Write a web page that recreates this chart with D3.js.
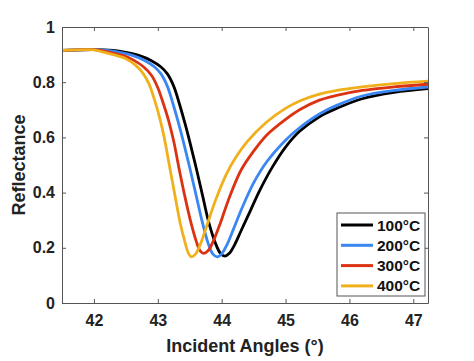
<!DOCTYPE html>
<html>
<head>
<meta charset="utf-8">
<script src="https://cdn.jsdelivr.net/npm/d3@7"></script>
<style>
  body { margin: 0; background: #fff; }
  svg { display: block; font-family: "Liberation Sans", Arial, sans-serif; }
</style>
</head>
<body>
<div id="chart"></div>
<script>
// reflectance curves, [angle, R]
const r100 = [[41.5,0.915],[42.0,0.918],[42.3,0.915],[42.5,0.908],[42.7,0.897],[42.9,0.878],[43.05,0.855],[43.15,0.83],[43.25,0.785],[43.34,0.72],[43.42,0.655],[43.5,0.585],[43.6,0.49],[43.7,0.39],[43.8,0.29],[43.9,0.218],[43.98,0.18],[44.05,0.17],[44.12,0.18],[44.2,0.21],[44.3,0.26],[44.45,0.335],[44.6,0.41],[44.8,0.495],[45.0,0.565],[45.22,0.622],[45.53,0.675],[45.8,0.705],[46.2,0.74],[46.7,0.763],[47.25,0.777]];
const r200 = [[41.5,0.915],[42.0,0.918],[42.2,0.915],[42.4,0.908],[42.6,0.897],[42.8,0.878],[42.95,0.855],[43.05,0.83],[43.15,0.785],[43.24,0.72],[43.32,0.655],[43.4,0.585],[43.5,0.49],[43.6,0.39],[43.7,0.29],[43.79,0.215],[43.86,0.178],[43.93,0.167],[44.0,0.178],[44.08,0.21],[44.18,0.265],[44.32,0.345],[44.5,0.435],[44.7,0.51],[45.0,0.59],[45.22,0.635],[45.53,0.685],[45.8,0.716],[46.2,0.75],[46.7,0.77],[47.25,0.783]];
const r300 = [[41.5,0.915],[42.0,0.918],[42.1,0.915],[42.25,0.908],[42.45,0.897],[42.62,0.88],[42.78,0.855],[42.9,0.825],[43.0,0.78],[43.09,0.72],[43.17,0.66],[43.25,0.585],[43.33,0.49],[43.42,0.39],[43.52,0.29],[43.6,0.225],[43.66,0.19],[43.72,0.18],[43.79,0.19],[43.87,0.225],[43.98,0.29],[44.1,0.37],[44.3,0.48],[44.5,0.55],[44.7,0.607],[45.0,0.665],[45.22,0.7],[45.53,0.735],[45.8,0.752],[46.2,0.77],[46.7,0.783],[47.25,0.793]];
const r400 = [[41.5,0.915],[42.0,0.917],[42.1,0.912],[42.3,0.9],[42.5,0.885],[42.65,0.862],[42.76,0.835],[42.86,0.795],[42.95,0.735],[43.03,0.67],[43.1,0.6],[43.18,0.5],[43.26,0.4],[43.35,0.29],[43.42,0.225],[43.48,0.18],[43.53,0.167],[43.59,0.177],[43.67,0.215],[43.76,0.275],[43.9,0.37],[44.07,0.465],[44.2,0.52],[44.4,0.585],[44.7,0.655],[45.0,0.705],[45.22,0.732],[45.53,0.757],[45.8,0.77],[46.2,0.783],[46.7,0.795],[47.25,0.804]];

const labels = ['100°C', '200°C', '300°C', '400°C'];
const colors = ['#000000', '#3a86f2', '#db3312', '#f0b01c'];
const xTicks = [42, 43, 44, 45, 46, 47];
const yTicks = [0, 0.2, 0.4, 0.6, 0.8, 1];

const width = 474;
const height = 361;
const margin = {top: 27, right: 46, bottom: 58, left: 62};

const svg = d3.select('#chart')
  .append('svg')
  .attr('width', width)
  .attr('height', height);

const x = d3.scaleLinear()
  .domain([41.5, 47.23])
  .range([margin.left, width - margin.right]);

const y = d3.scaleLinear()
  .domain([0, 1])
  .range([height - margin.bottom, margin.top]);

const line = d3.line()
  .x(d => x(d[0]))
  .y(d => y(d[1]))
  .curve(d3.curveCatmullRom.alpha(0.5));

const series = [r100, r200, r300, r400];

svg.append('defs').append('clipPath').attr('id', 'clip')
  .append('rect')
  .attr('x', margin.left).attr('y', margin.top)
  .attr('width', width - margin.left - margin.right)
  .attr('height', height - margin.top - margin.bottom);

svg.append('g')
  .attr('clip-path', 'url(#clip)')
  .selectAll('path')
  .data(series)
  .join('path')
    .attr('fill', 'none')
    .attr('stroke', (d, i) => colors[i])
    .attr('stroke-width', 2.8)
    .attr('d', line);

function styleAxis(g) {
  g.select('.domain').attr('stroke', '#555');
  g.selectAll('.tick line').attr('stroke', '#555');
  g.selectAll('.tick text')
    .attr('fill', '#222')
    .attr('font-size', '16px')
    .attr('font-weight', 'bold')
    .attr('font-family', '"Liberation Sans", Arial, sans-serif');
}

svg.append('g')
  .attr('transform', `translate(0,${height - margin.bottom})`)
  .call(d3.axisBottom(x).tickValues(xTicks).tickSize(-4).tickSizeOuter(0).tickPadding(12).tickFormat(d3.format('d')))
  .call(styleAxis);

svg.append('g')
  .attr('transform', `translate(0,${margin.top})`)
  .call(d3.axisTop(x).tickValues(xTicks).tickSize(-4).tickSizeOuter(0).tickFormat(''))
  .call(styleAxis);

svg.append('g')
  .attr('transform', `translate(${margin.left},0)`)
  .call(d3.axisLeft(y).tickValues(yTicks).tickSize(-4).tickSizeOuter(0).tickPadding(7).tickFormat(d3.format('~g')))
  .call(styleAxis);

svg.append('g')
  .attr('transform', `translate(${width - margin.right},0)`)
  .call(d3.axisRight(y).tickValues(yTicks).tickSize(-4).tickSizeOuter(0).tickFormat(''))
  .call(styleAxis);

// axis titles
svg.append('text')
  .attr('x', (margin.left + width - margin.right) / 2)
  .attr('y', 352)
  .attr('text-anchor', 'middle')
  .attr('font-size', '18px')
  .attr('font-weight', 'bold')
  .attr('fill', '#222')
  .text('Incident Angles (°)');

svg.append('text')
  .attr('transform', `translate(25,${(margin.top + height - margin.bottom) / 2}) rotate(-90)`)
  .attr('text-anchor', 'middle')
  .attr('font-size', '18px')
  .attr('font-weight', 'bold')
  .attr('fill', '#222')
  .text('Reflectance');

// legend
const legend = svg.append('g').attr('transform', 'translate(337,213)');
legend.append('rect')
  .attr('width', 88).attr('height', 83)
  .attr('fill', '#fff')
  .attr('stroke', '#555');

const item = legend.selectAll('g')
  .data(labels)
  .join('g')
  .attr('transform', (d, i) => `translate(0,${12 + i * 20.3})`);

item.append('line')
  .attr('x1', 4).attr('x2', 36)
  .attr('stroke', (d, i) => colors[i])
  .attr('stroke-width', 3);

item.append('text')
  .attr('x', 40)
  .attr('y', 5.5)
  .attr('font-size', '15.5px')
  .attr('font-weight', 'bold')
  .attr('fill', '#111')
  .text(d => d);
</script>
</body>
</html>
